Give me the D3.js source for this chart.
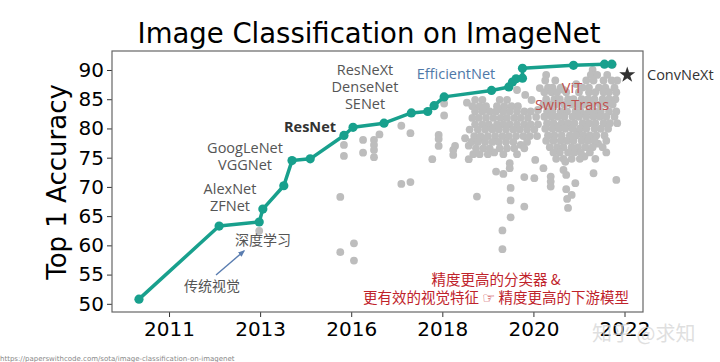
<!DOCTYPE html>
<html>
<head>
<meta charset="utf-8">
<script src="https://cdn.jsdelivr.net/npm/d3@7"></script>
<style>
  body { margin: 0; background: #fff; }
  svg { display: block; }
</style>
</head>
<body>
<div id="chart"></div>
<script>
// x is measured in axis-tick units (0 = first labelled tick)
const xTickLabels = ["2011", "2013", "2016", "2018", "2020", "2022"];
const yTicks = [50, 55, 60, 65, 70, 75, 80, 85, 90];

// state of the art line
const sotaX = [-0.33, 0.55, 0.99, 1.03, 1.26, 1.35, 1.55, 1.92, 2.02, 2.36, 2.66, 2.84, 2.91, 3.02,
               3.54, 3.73, 3.77, 3.81, 3.88, 3.88, 4.44, 4.78, 4.86];
const sotaAcc = [50.8, 63.3, 64.0, 66.2, 70.2, 74.5, 74.8, 78.8, 80.2, 80.9, 82.65, 82.9, 83.9, 85.4,
                 86.5, 87.1, 87.95, 88.5, 88.6, 90.3, 90.8, 91.0, 91.0];

// ConvNeXt
const convnext = [5.03, 89.15];

// other models, scattered
const otherModels = [
  [0.99, 62.48], [1.88, 68.29], [1.88, 58.84], [2.03, 60.34], [2.03, 57.40], [1.92, 77.18], [1.92, 75.30],
  [2.13, 78.03], [2.13, 75.86], [2.25, 78.03], [2.25, 77.18], [2.25, 76.32], [2.25, 75.08], [2.31, 78.97],
  [2.55, 80.46], [2.65, 79.20], [2.55, 70.51], [2.65, 70.82], [2.96, 78.89], [2.96, 78.21], [2.96, 77.01],
  [2.89, 74.74], [3.02, 84.27], [3.02, 82.22], [3.12, 76.32], [3.14, 77.01], [3.12, 75.47], [3.25, 78.32],
  [3.27, 84.41], [3.29, 77.06], [3.29, 74.74], [3.38, 68.34], [3.59, 72.62], [3.67, 72.22], [3.74, 74.05],
  [3.74, 73.20], [3.90, 71.68], [4.02, 74.62], [4.11, 73.20], [4.19, 71.76], [4.19, 70.91], [4.19, 70.05],
  [4.33, 72.91], [4.36, 72.05], [4.36, 69.61], [4.42, 68.63], [4.37, 67.95], [4.38, 66.41], [4.46, 70.63],
  [4.66, 72.34], [4.91, 71.20], [3.75, 69.83], [3.75, 67.69], [3.75, 64.79], [3.90, 66.63], [3.66, 62.56],
  [3.66, 59.35], [4.01, 71.49], [4.87, 90.94], [4.65, 90.0],
  [3.82, 86.58], [3.91, 85.73], [3.98, 84.87], [4.05, 83.16], [4.03, 81.97], [4.07, 86.9],
  [4.47, 87.6], [4.33, 86.6], [4.40, 84.6], [4.57, 82.4], [4.26, 80.4], [4.48, 79.3], [4.71, 77.4],
  [3.53, 80.2], [3.64, 83.3], [3.45, 78.2], [3.86, 77.2], [4.56, 75.2], [4.35, 74.3], [3.57, 75.9]
];

// dense clouds, one row of models per accuracy level
const denseRows = [
  [89.15, [4.14, 4.63, 4.70, 4.81]],
  [88.2,  [4.13, 4.24, 4.58, 4.66, 4.77, 4.86, 4.92]],
  [87.0,  [4.16, 4.21, 4.30, 4.54, 4.61, 4.72, 4.79, 4.89]],
  [86.2,  [4.12, 4.20, 4.26, 4.36, 4.50, 4.61, 4.68, 4.77, 4.83, 4.91]],
  [85.0,  [4.14, 4.23, 4.29, 4.38, 4.44, 4.53, 4.60, 4.67, 4.76, 4.83, 4.90]],
  [84.1,  [4.11, 4.19, 4.25, 4.34, 4.42, 4.49, 4.56, 4.64, 4.73, 4.80, 4.87]],
  [82.9,  [4.15, 4.21, 4.30, 4.37, 4.46, 4.52, 4.61, 4.68, 4.74, 4.83, 4.91]],
  [82.0,  [4.12, 4.20, 4.27, 4.34, 4.43, 4.50, 4.58, 4.66, 4.73, 4.80, 4.89]],
  [80.9,  [4.15, 4.22, 4.31, 4.38, 4.45, 4.54, 4.61, 4.68, 4.77, 4.84, 4.92]],
  [79.95, [4.13, 4.21, 4.28, 4.35, 4.43, 4.51, 4.58, 4.67, 4.74, 4.82]],
  [78.8,  [4.16, 4.23, 4.31, 4.40, 4.47, 4.55, 4.62, 4.69, 4.78]],
  [77.9,  [4.14, 4.22, 4.30, 4.37, 4.44, 4.53, 4.60, 4.67, 4.80]],
  [76.8,  [4.18, 4.26, 4.33, 4.42, 4.49, 4.57, 4.65, 4.76]],
  [75.9,  [4.22, 4.29, 4.38, 4.45, 4.52, 4.62, 4.80]],
  [74.8,  [4.25, 4.33, 4.42, 4.51, 4.68]],
  // left cloud
  [84.9,  [3.36, 3.44, 3.63, 3.71]],
  [83.8,  [3.33, 3.41, 3.48, 3.60, 3.68, 3.76, 3.83]],
  [82.9,  [3.36, 3.44, 3.52, 3.59, 3.67, 3.74, 3.82, 3.90, 3.97]],
  [81.8,  [3.33, 3.40, 3.48, 3.56, 3.64, 3.71, 3.79, 3.86, 3.94]],
  [80.7,  [3.36, 3.44, 3.51, 3.60, 3.67, 3.74, 3.82, 3.90, 3.97, 4.05]],
  [79.8,  [3.30, 3.39, 3.47, 3.55, 3.62, 3.70, 3.78, 3.85, 3.93, 4.01]],
  [78.7,  [3.35, 3.42, 3.50, 3.58, 3.66, 3.73, 3.81, 3.89, 3.96, 4.04]],
  [77.7,  [3.32, 3.39, 3.47, 3.55, 3.62, 3.70, 3.78, 3.93]],
  [76.6,  [3.37, 3.45, 3.52, 3.63, 3.71, 3.79, 3.90]],
  [75.6,  [3.34, 3.41, 3.50, 3.67, 3.82]]
];

const width = 720, height = 362;
const frame = { left: 112, top: 51, right: 643, bottom: 312 };

const svg = d3.select("#chart").append("svg")
    .attr("width", width)
    .attr("height", height);

const x = d3.scaleLinear().domain([-0.626, 5.203]).range([frame.left, frame.right]);
const y = d3.scaleLinear().domain([48.6, 93.25]).range([frame.bottom, frame.top]);

// all gray points
const cloud = otherModels.concat(denseRows.flatMap(r => r[1].map(u => [u, r[0]])));

svg.append("g")
    .selectAll("circle")
    .data(cloud)
    .enter()
    .append("circle")
    .attr("cx", d => x(d[0]))
    .attr("cy", d => y(d[1]))
    .attr("r", 3.9)
    .style("fill", "#bdbdbd");

// axes
const yAxis = svg.append("g")
    .attr("transform", `translate(${frame.left},0)`)
    .call(d3.axisLeft(y).tickValues(yTicks).tickSize(5).tickPadding(3));

const xAxis = svg.append("g")
    .attr("transform", `translate(0,${frame.bottom})`)
    .call(d3.axisBottom(x).tickValues(d3.range(xTickLabels.length))
        .tickFormat(i => xTickLabels[i]).tickSize(5).tickPadding(4.5));

[yAxis, xAxis].forEach(g => {
    g.select(".domain").remove();
    g.selectAll("line").attr("stroke", "#333");
    g.selectAll("text")
        .style("font-family", "DejaVu Sans")
        .style("font-size", "20px")
        .attr("fill", "#000");
});

svg.append("rect")
    .attr("x", frame.left)
    .attr("y", frame.top)
    .attr("width", frame.right - frame.left)
    .attr("height", frame.bottom - frame.top)
    .attr("fill", "none")
    .attr("stroke", "#666")
    .attr("stroke-width", 1.2);

// SOTA line
const sota = sotaX.map((u, i) => [u, sotaAcc[i]]);
const teal = "#18a08d";

svg.append("path")
    .datum(sota)
    .attr("d", d3.line().x(d => x(d[0])).y(d => y(d[1])))
    .attr("fill", "none")
    .attr("stroke", teal)
    .attr("stroke-width", 3.5)
    .attr("stroke-linejoin", "round");

svg.append("g")
    .selectAll("circle")
    .data(sota)
    .enter()
    .append("circle")
    .attr("cx", d => x(d[0]))
    .attr("cy", d => y(d[1]))
    .attr("r", 4.6)
    .style("fill", teal);

svg.append("path")
    .attr("d", d3.symbol(d3.symbolStar, 80)())
    .attr("transform", `translate(${x(convnext[0])},${y(convnext[1])})`)
    .attr("fill", "#333");

// titles
svg.append("text")
    .attr("x", 369)
    .attr("y", 43)
    .attr("text-anchor", "middle")
    .style("font-family", "DejaVu Sans")
    .style("font-size", "27.5px")
    .text("Image Classification on ImageNet");

svg.append("text")
    .attr("transform", "translate(66,182) rotate(-90)")
    .attr("text-anchor", "middle")
    .style("font-family", "DejaVu Sans")
    .style("font-size", "26px")
    .text("Top 1 Accuracy");

// annotations
const sans = "'Open Sans', 'Noto Sans', sans-serif";
const cjk = "'Noto Sans CJK SC', sans-serif";

function label(txt, px, py, opts = {}) {
    return svg.append("text")
        .attr("x", px)
        .attr("y", py)
        .attr("text-anchor", opts.anchor || "middle")
        .style("font-family", opts.font || sans)
        .style("font-size", (opts.size || 14.5) + "px")
        .style("font-weight", opts.weight || "normal")
        .attr("fill", opts.color || "#555")
        .text(txt);
}

label("GoogLeNet", 245, 153);
label("VGGNet", 245, 170);
label("AlexNet", 230, 194);
label("ZFNet", 230, 211);
label("ResNet", 310, 132, { weight: "bold", color: "#333" });
label("ResNeXt", 365, 75);
label("DenseNet", 365, 92);
label("SENet", 365, 109);
label("EfficientNet", 456, 79, { color: "#4f78a8" });
label("ViT", 572, 93, { color: "#c0504d" });
label("Swin-Trans", 572, 110, { color: "#c0504d" });
label("ConvNeXt", 647, 80, { anchor: "start", color: "#333" });

label("深度学习", 263, 245, { font: cjk, size: 14 });
label("传统视觉", 212, 291, { font: cjk, size: 14 });

svg.append("defs").append("marker")
    .attr("id", "arrow")
    .attr("viewBox", "0 0 10 10")
    .attr("refX", 8).attr("refY", 5)
    .attr("markerWidth", 5).attr("markerHeight", 5)
    .attr("orient", "auto")
    .append("path")
    .attr("d", "M0,1 L10,5 L0,9 z")
    .attr("fill", "#5a7db0");

svg.append("line")
    .attr("x1", 216).attr("y1", 275)
    .attr("x2", 244).attr("y2", 251)
    .attr("stroke", "#5a7db0")
    .attr("stroke-width", 1.4)
    .attr("marker-end", "url(#arrow)");

const red = "#bf232b";
label("精度更高的分类器 &", 496, 285, { font: cjk, size: 14.5, color: red });
const l2 = label("", 496, 303, { font: cjk, size: 14.5, color: red });
l2.append("tspan").text("更有效的视觉特征 ");
l2.append("tspan").style("font-family", "DejaVu Sans").text("☞");
l2.append("tspan").text(" 精度更高的下游模型");

// watermark and source
svg.append("text")
    .attr("x", 592)
    .attr("y", 341)
    .style("font-family", cjk)
    .style("font-size", "20px")
    .attr("fill", "rgba(215,215,215,0.8)")
    .text("知乎 @求知");

svg.append("text")
    .attr("x", 0)
    .attr("y", 361)
    .style("font-family", "DejaVu Sans")
    .style("font-size", "7px")
    .attr("fill", "#888")
    .text("https://paperswithcode.com/sota/image-classification-on-imagenet");
</script>
</body>
</html>
